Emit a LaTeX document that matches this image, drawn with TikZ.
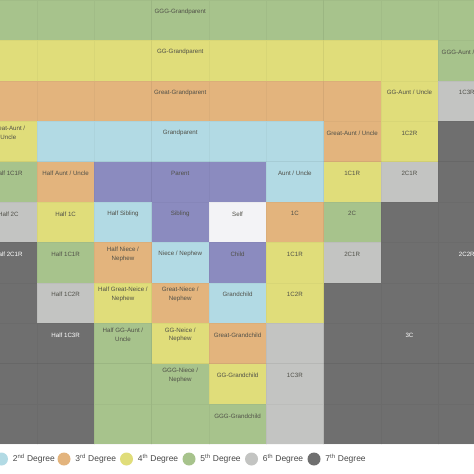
\documentclass[tikz,border=0pt]{standalone}
\usepackage{fontspec}
\setmainfont{Liberation Sans}

\definecolor{deg0}{HTML}{F3F3F6}
\definecolor{deg1}{HTML}{8B8BBF}
\definecolor{deg2}{HTML}{B2DAE4}
\definecolor{deg3}{HTML}{E3B47D}
\definecolor{deg4}{HTML}{E0DD7A}
\definecolor{deg5}{HTML}{A7C38C}
\definecolor{deg6}{HTML}{C3C4C2}
\definecolor{deg7}{HTML}{6F6F6F}
\definecolor{lbltext}{HTML}{505048}

\tikzset{
  lbl/.style={font=\fontsize{6.2}{8.8}\selectfont, text=lbltext, align=center, inner sep=0pt},
  wlbl/.style={lbl, text=white},
  dot/.style={circle, minimum size=13bp, inner sep=0pt},
  key/.style={font=\fontsize{8.5}{10}\selectfont, text=black!72, anchor=west, inner sep=0pt},
}

\begin{document}
\begin{tikzpicture}[x=1bp,y=-1bp]
  \useasboundingbox (0,0) rectangle (474,474);
  \begin{scope}
    \clip (0,0) rectangle (474,444.4);
    % one row per generation, one number (degree) per cell
    \foreach \r/\cols in {0/{5,5,5,5,5,5,5,5,5},
        1/{4,4,4,4,4,4,4,4,5},
        2/{3,3,3,3,3,3,3,4,6},
        3/{4,2,2,2,2,2,3,4,7},
        4/{5,3,1,1,1,2,4,6,7},
        5/{6,4,2,1,0,3,5,7,7},
        6/{7,5,3,2,1,4,6,7,7},
        7/{7,6,4,3,2,4,7,7,7},
        8/{7,7,5,4,3,6,7,7,7},
        9/{7,7,5,5,4,6,7,7,7},
        10/{7,7,5,5,5,6,7,7,7}}{
        \foreach \c [count=\i from 0] in \cols {
            \pgfmathsetmacro\xl{-20.3+57.3*\i}
            \pgfmathsetmacro\yt{40.4*\r}
            \filldraw[fill=deg\c, draw=black, draw opacity=0.03, line width=0.4pt] (\xl,\yt) rectangle ++(57.3,40.4);
            \coordinate (k\i-\r) at (\xl+28.65, \yt+11.8);
          }}

    \node[lbl] (gggp) at (k3-0) {GGG-Grandparent};
    \node[lbl] (ggp) at (k3-1) {GG-Grandparent};
    \node[lbl] (gggau) at (k8-1) {GGG-Aunt / Uncle};
    \node[lbl] (gp3) at (k3-2) {Great-Grandparent};
    \node[lbl] (ggau) at (k7-2) {GG-Aunt / Uncle};
    \node[lbl] (c1r3a) at (k8-2) {1C3R};

    \node[lbl] (hgau) at (k0-3) {Great-Aunt /\\Uncle};
    \node[lbl] (gp) at (k3-3) {Grandparent};
    \node[lbl] (gau) at (k6-3) {Great-Aunt / Uncle};
    \node[lbl] (c1r2a) at (k7-3) {1C2R};

    \node[lbl] (h1c1ra) at (k0-4) {Half 1C1R};
    \node[lbl] (hau) at (k1-4) {Half Aunt / Uncle};
    \node[lbl] (par) at (k3-4) {Parent};
    \node[lbl] (au) at (k5-4) {Aunt / Uncle};
    \node[lbl] (c1r1a) at (k6-4) {1C1R};
    \node[lbl] (c2r1a) at (k7-4) {2C1R};

    \node[lbl] (h2c) at (k0-5) {Half 2C};
    \node[lbl] (h1c) at (k1-5) {Half 1C};
    \node[lbl] (hsib) at (k2-5) {Half Sibling};
    \node[lbl] (sib) at (k3-5) {Sibling};
    \node[lbl] (self) at (k4-5) {Self};
    \node[lbl] (c1) at (k5-5) {1C};
    \node[lbl] (c2) at (k6-5) {2C};

    \node[wlbl] (h2c1r) at (k0-6) {Half 2C1R};
    \node[lbl] (h1c1rb) at (k1-6) {Half 1C1R};
    \node[lbl] (hnn) at (k2-6) {Half Niece /\\Nephew};
    \node[lbl] (nn) at (k3-6) {Niece / Nephew};
    \node[lbl] (child) at (k4-6) {Child};
    \node[lbl] (c1r1b) at (k5-6) {1C1R};
    \node[lbl] (c2r1b) at (k6-6) {2C1R};
    \node[wlbl] (c2r2) at (k8-6) {2C2R};

    \node[lbl] (h1c2r) at (k1-7) {Half 1C2R};
    \node[lbl] (hgnn) at (k2-7) {Half Great-Neice /\\Nephew};
    \node[lbl] (gnn) at (k3-7) {Great-Niece /\\Nephew};
    \node[lbl] (gc) at (k4-7) {Grandchild};
    \node[lbl] (c1r2b) at (k5-7) {1C2R};

    \node[wlbl] (h1c3r) at (k1-8) {Half 1C3R};
    \node[lbl] (hggau) at (k2-8) {Half GG-Aunt /\\Uncle};
    \node[lbl] (ggnn) at (k3-8) {GG-Neice /\\Nephew};
    \node[lbl] (gc3) at (k4-8) {Great-Grandchild};
    \node[wlbl] (c3) at (k7-8) {3C};

    \node[lbl] (gggnn) at (k3-9) {GGG-Niece /\\Nephew};
    \node[lbl] (ggc) at (k4-9) {GG-Grandchild};
    \node[lbl] (c1r3b) at (k5-9) {1C3R};

    \node[lbl] (gggc) at (k4-10) {GGG-Grandchild};
  \end{scope}

  % legend
  \foreach \k/\sfx in {2/nd,3/rd,4/th,5/th,6/th,7/th}{
      \pgfmathsetmacro\dx{1.5+62.5*(\k-2)}
      \node[dot, fill=deg\k] (dot\k) at (\dx,459) {};
      \node[key] (key\k) at ([xshift=4.5bp]dot\k.east) {\k\textsuperscript{\sfx} Degree};
    }
\end{tikzpicture}
\end{document}
